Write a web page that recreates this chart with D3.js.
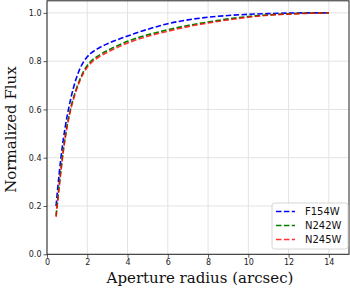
<!DOCTYPE html>
<html>
<head>
<meta charset="utf-8">
<script src="https://cdn.jsdelivr.net/npm/d3@7"></script>
<style>
  html, body { margin: 0; padding: 0; background: #fff; }
  svg { display: block; }
</style>
</head>
<body>
<svg id="chart" width="350" height="290"></svg>
<script>
// ---- data ----
const radius = [0.45, 0.5, 0.6, 0.7, 0.8, 0.9, 1.0, 1.2, 1.4, 1.6, 1.8, 2.0, 2.2, 2.5, 3.0, 3.5, 4.0, 5.0, 6.0, 7.0, 8.0, 9.0, 10.0, 11.0, 12.0, 13.0, 14.0];
const f154w = [0.200, 0.245, 0.330, 0.405, 0.470, 0.525, 0.572, 0.652, 0.714, 0.762, 0.795, 0.818, 0.834, 0.851, 0.872, 0.889, 0.904, 0.932, 0.955, 0.971, 0.982, 0.989, 0.994, 0.997, 0.999, 1.000, 1.000];
const n242w = [0.160, 0.200, 0.281, 0.356, 0.426, 0.484, 0.534, 0.613, 0.671, 0.718, 0.755, 0.782, 0.801, 0.820, 0.844, 0.864, 0.882, 0.909, 0.930, 0.948, 0.962, 0.975, 0.985, 0.992, 0.996, 0.999, 1.000];
const n245w = [0.155, 0.195, 0.275, 0.350, 0.420, 0.478, 0.528, 0.607, 0.665, 0.712, 0.748, 0.775, 0.794, 0.813, 0.837, 0.857, 0.875, 0.903, 0.924, 0.943, 0.958, 0.971, 0.982, 0.990, 0.995, 0.998, 1.000];
const seriesNames = ["F154W", "N242W", "N245W"];
const seriesColors = ["#0000ff", "#008000", "#ff0000"];
const xTicks = [0, 2, 4, 6, 8, 10, 12, 14];
const yTicks = [0.0, 0.2, 0.4, 0.6, 0.8, 1.0];
const xLabel = "Aperture radius (arcsec)";
const yLabel = "Normalized Flux";

const seriesValues = [f154w, n242w, n245w];

const svg = d3.select("#chart");
const L = 47, R = 349, T = 0.8, B = 254.3;

const x = d3.scaleLinear().domain([0, 15]).range([L, R]);
const y = d3.scaleLinear().domain([0, 1.05]).range([B, T]);

// grid
const grid = svg.append("g");
grid.selectAll("line.gx").data(xTicks).enter().append("line")
  .attr("x1", d => x(d)).attr("x2", d => x(d)).attr("y1", T).attr("y2", B)
  .attr("stroke", "#e3e3e3").attr("stroke-width", 1);
grid.selectAll("line.gy").data(yTicks).enter().append("line")
  .attr("y1", d => y(d)).attr("y2", d => y(d)).attr("x1", L).attr("x2", R)
  .attr("stroke", "#e3e3e3").attr("stroke-width", 1);

// lines
const line = d3.line().x(d => x(d[0])).y(d => y(d[1])).curve(d3.curveMonotoneX);
seriesValues.forEach((vals, i) => {
  const pts = radius.map((r, j) => [r, vals[j]]);
  svg.append("path").datum(pts)
    .attr("d", line)
    .attr("fill", "none")
    .attr("stroke", seriesColors[i])
    .attr("stroke-opacity", i === 2 ? 0.8 : 1)
    .attr("stroke-width", 1.6)
    .attr("stroke-dasharray", "5.5,2.4");
});

// axes
const xAxis = d3.axisBottom(x).tickValues(xTicks).tickFormat(d3.format("d")).tickSizeOuter(0).tickSize(3.5).tickPadding(2);
const yAxis = d3.axisLeft(y).tickValues(yTicks).tickFormat(d3.format(".1f")).tickSizeOuter(0).tickSize(3.5).tickPadding(2);

const gx = svg.append("g").attr("transform", `translate(0,${B})`).call(xAxis);
const gy = svg.append("g").attr("transform", `translate(${L},0)`).call(yAxis);
[gx, gy].forEach(g => {
  g.select(".domain").remove();
  g.selectAll("line").attr("stroke", "#333").attr("stroke-width", 0.8);
  g.selectAll("text").attr("font-family", "DejaVu Sans").attr("font-size", "8px").attr("fill", "#222");
});

// frame
svg.append("rect").attr("x", L).attr("y", T).attr("width", R - L).attr("height", B - T)
  .attr("fill", "none").attr("stroke", "#222").attr("stroke-width", 1);

// axis labels
svg.append("text").attr("x", (L + R) / 2 + 2).attr("y", 283)
  .attr("text-anchor", "middle").attr("font-family", "DejaVu Serif").attr("font-size", "15px")
  .attr("fill", "#111").text(xLabel);
svg.append("text").attr("transform", `translate(16,${(T + B) / 2 + 2}) rotate(-90)`)
  .attr("text-anchor", "middle").attr("font-family", "DejaVu Serif").attr("font-size", "15px")
  .attr("fill", "#111").text(yLabel);

// legend
const lg = svg.append("g");
lg.append("rect").attr("x", 272).attr("y", 203).attr("width", 76).attr("height", 46)
  .attr("rx", 2.5).attr("fill", "#fff").attr("fill-opacity", 0.85)
  .attr("stroke", "#cccccc").attr("stroke-width", 0.8);
seriesNames.forEach((name, i) => {
  const yy = 211.5 + i * 14;
  lg.append("line").attr("x1", 276).attr("x2", 295).attr("y1", yy).attr("y2", yy)
    .attr("stroke", seriesColors[i]).attr("stroke-opacity", i === 2 ? 0.8 : 1)
    .attr("stroke-width", 1.6).attr("stroke-dasharray", "5.5,2.4");
  lg.append("text").attr("x", 305).attr("y", yy + 3.5)
    .attr("font-family", "DejaVu Sans").attr("font-size", "10px").attr("fill", "#111").text(name);
});
</script>
</body>
</html>
